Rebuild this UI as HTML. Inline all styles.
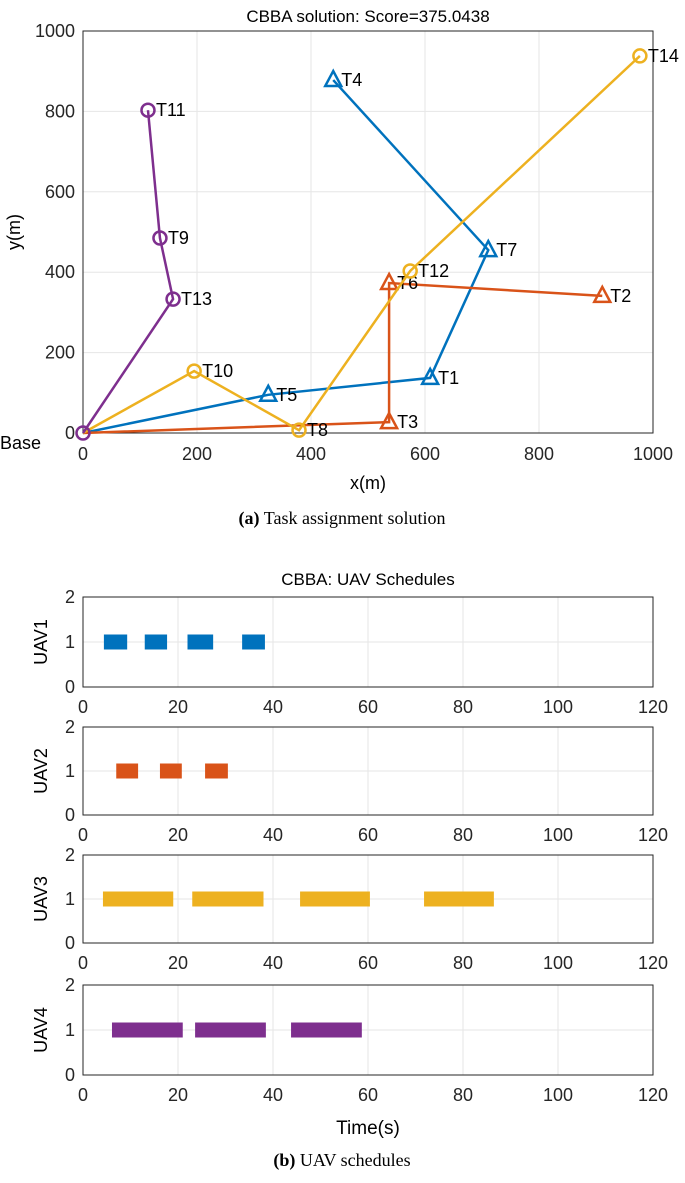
<!DOCTYPE html>
<html><head><meta charset="utf-8"><style>
body{margin:0;background:#fff;width:685px;height:1178px;overflow:hidden}
svg{font-family:"Liberation Sans",sans-serif}
</style></head><body>
<svg id="s" width="685" height="1178" xmlns="http://www.w3.org/2000/svg"></svg>
<script>
const taskNames=['T1','T2','T3','T4','T5','T6','T7','T8','T9','T10','T11','T12','T13','T14'];
const taskX=[609,911,537,439,325,537,711,379,135,195,114,574,158,977];
const taskY=[137,341,27,878,95,373,455,7,485,154,803,403,333,938];
const routes=[['T5','T1','T7','T4'],['T3','T6','T2'],['T10','T8','T12','T14'],['T13','T9','T11']];
const markers=['tri','tri','circ','circ'];
const colors=['#0072BD','#D95319','#EDB120','#7E2F8E'];
const uavNames=['UAV1','UAV2','UAV3','UAV4'];
const schedStart=[[4.4,13,22,33.5],[7,16.2,25.7],[4.2,23,45.7,71.8],[6.1,23.6,43.8]];
const schedEnd=[[9.3,17.7,27.4,38.3],[11.6,20.8,30.5],[19,38,60.4,86.5],[21,38.5,58.7]];
const xTicksTop=[0,200,400,600,800,1000];
const yTicksTop=[0,200,400,600,800,1000];
const tTicks=[0,20,40,60,80,100,120];
const uTicks=[0,1,2];

const NS='http://www.w3.org/2000/svg';
const s=document.getElementById('s');
function el(tag,attrs,parent){const e=document.createElementNS(NS,tag);for(const k in attrs)e.setAttribute(k,attrs[k]);(parent||s).appendChild(e);return e;}
function txt(str,attrs,name){const e=el('text',attrs);e.textContent=str;


return e;}

const L=83,R=653,T=31,B=433;
const sx=v=>L+(v/1000)*(R-L), sy=v=>B-(v/1000)*(B-T);
for(const v of xTicksTop){const g=el('line',{x1:sx(v),x2:sx(v),y1:T,y2:B,stroke:'#e6e6e6'});

txt(v,{x:sx(v),y:B+27,'font-size':18,'text-anchor':'middle',fill:'#262626'},'x-tick-label');}
for(const v of yTicksTop){const g=el('line',{x1:L,x2:R,y1:sy(v),y2:sy(v),stroke:'#e6e6e6'});

txt(v,{x:L-8,y:sy(v)+6,'font-size':18,'text-anchor':'end',fill:'#262626'},'y-tick-label');}
const box=el('rect',{x:L,y:T,width:R-L,height:B-T,fill:'none',stroke:'#262626','stroke-width':1});

txt('CBBA solution: Score=375.0438',{x:(L+R)/2,y:T-9,'font-size':17,'text-anchor':'middle'},'chart-title');
txt('x(m)',{x:(L+R)/2,y:B+56,'font-size':18,'text-anchor':'middle'},'x-axis-title');
txt('y(m)',{x:0,y:0,'font-size':18,'text-anchor':'middle',transform:`translate(20,${(T+B)/2}) rotate(-90)`},'y-axis-title');

routes.forEach((r,i)=>{
 const pts=[[0,0]].concat(r.map(n=>{const k=taskNames.indexOf(n);return [taskX[k],taskY[k]];}));
 const pl=el('polyline',{points:pts.map(p=>sx(p[0])+','+sy(p[1])).join(' '),fill:'none',stroke:colors[i],'stroke-width':2.5});
 
 pts.forEach((p,j)=>{
  if(j===0) return;
  const cx=sx(p[0]),cy=sy(p[1]);let m;
  if(markers[i]==='tri') m=el('polygon',{points:`${cx},${cy-9} ${cx-8},${cy+6} ${cx+8},${cy+6}`,fill:'none',stroke:colors[i],'stroke-width':2.5});
  else m=el('circle',{cx,cy,r:6.5,fill:'none',stroke:colors[i],'stroke-width':2.5});
  
  txt(r[j-1],{x:cx+8,y:cy+6,'font-size':18},'task-label');
 });
});
const bm=el('circle',{cx:sx(0),cy:sy(0),r:6.5,fill:'none',stroke:colors[3],'stroke-width':2.5});

txt('Base',{x:0,y:B+16,'font-size':18},'base-label');

function caption(b,rest,y,name){const e=el('text',{x:342,y,'font-size':18,'text-anchor':'middle','font-family':'Liberation Serif,serif'});

const t1=el('tspan',{'font-weight':'bold'},e);t1.textContent=b;const t2=el('tspan',{},e);t2.textContent=' '+rest;}
caption('(a)','Task assignment solution',524,'caption-a');
caption('(b)','UAV schedules',1166,'caption-b');

txt('CBBA: UAV Schedules',{x:(L+R)/2,y:585,'font-size':17,'text-anchor':'middle'},'schedule-title');
const tops=[597,727,855,985],heights=[90,88,88,90];
const tx=v=>L+v/120*(R-L);
uavNames.forEach((u,i)=>{
 const t0=tops[i],b0=t0+heights[i],uy=v=>b0-v/2*(b0-t0);
 for(const v of tTicks){const g=el('line',{x1:tx(v),x2:tx(v),y1:t0,y2:b0,stroke:'#e6e6e6'});
  
  txt(v,{x:tx(v),y:b0+26,'font-size':18,'text-anchor':'middle',fill:'#262626'},'time-tick-label');}
 for(const v of uTicks){const g=el('line',{x1:L,x2:R,y1:uy(v),y2:uy(v),stroke:'#e6e6e6'});
  
  txt(v,{x:L-8,y:uy(v)+6,'font-size':18,'text-anchor':'end',fill:'#262626'},'uav-tick-label');}
 const fr=el('rect',{x:L,y:t0,width:R-L,height:b0-t0,fill:'none',stroke:'#262626'});
 
 txt(u,{x:0,y:0,'font-size':18,'text-anchor':'middle',transform:`translate(47,${(t0+b0)/2}) rotate(-90)`},'uav-axis-label');
 schedStart[i].forEach((st,k)=>{
  const r=el('rect',{x:tx(st),y:uy(1)-7.5,width:tx(schedEnd[i][k])-tx(st),height:15,fill:colors[i]});
  
 });
});
txt('Time(s)',{x:(L+R)/2,y:1134,'font-size':19,'text-anchor':'middle'},'time-axis-title');
</script>
</body></html>
